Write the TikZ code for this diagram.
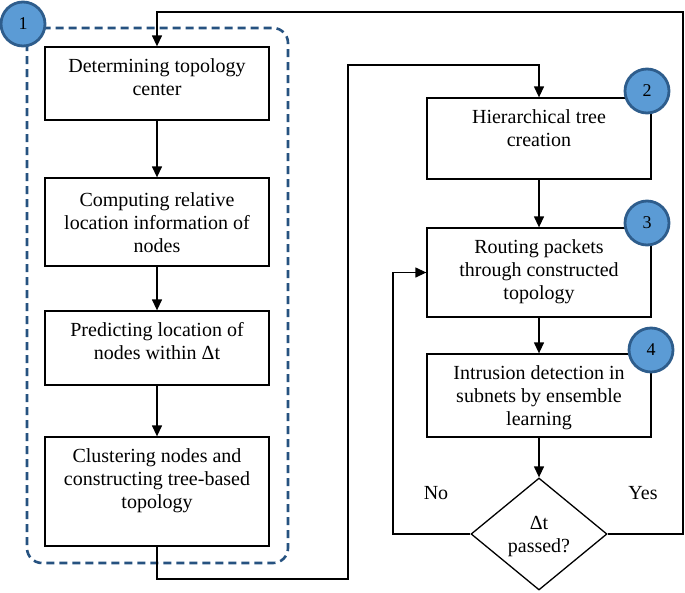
\documentclass[tikz,border=0pt]{standalone}
\usepackage{fontspec}
\setmainfont{Liberation Serif}
\usetikzlibrary{shapes.geometric,arrows.meta}
\definecolor{circfill}{RGB}{91,155,213}
\definecolor{circline}{RGB}{46,93,140}
\definecolor{dashcol}{RGB}{38,82,128}
\begin{document}
\begin{tikzpicture}[x=1pt,y=-1pt,
  box/.style={draw=black,line width=1.3pt,rectangle,inner sep=0pt,minimum width=224pt},
  txt/.style={inner sep=0pt,align=center,font=\fontsize{20}{23}\selectfont},
  num/.style={circle,draw=circline,line width=2.8pt,fill=circfill,minimum size=44pt,inner sep=0pt,font=\fontsize{18}{20}\selectfont},
  conn/.style={line width=1.3pt,draw=black},
  arr/.style={conn,-{Triangle[length=11pt,width=10pt]}},
  decision/.style={diamond,draw=black,line width=1.3pt,inner sep=0pt,minimum width=136pt,minimum height=112pt}]
\useasboundingbox (0,0) rectangle (685,592);
% dashed group
\draw[dashcol,line width=2.6pt,dash pattern=on 8pt off 5pt,rounded corners=15pt] (27,28) rectangle (288,563);
% left boxes
\node[box,minimum height=73pt] (b1) at (157,83.5) {};
\node[box,minimum height=88pt] (b2) at (157,222) {};
\node[box,minimum height=74pt] (b3) at (157,348) {};
\node[box,minimum height=109pt] (b4) at (157,491.5) {};
% right boxes
\node[box,minimum height=81pt] (bh) at (539,138.5) {};
\node[box,minimum height=89pt] (br) at (539,272.5) {};
\node[box,minimum height=83pt] (bi) at (539,395.5) {};
\node[decision] (dec) at (539,534) {};
% texts
\node[txt,anchor=north] (t1) at ([yshift=-12pt]b1.north) {Determining topology\\center};
\node[txt,anchor=north] (t2) at ([yshift=-15pt]b2.north) {Computing relative\\location information of\\nodes};
\node[txt,anchor=north] (t3) at ([yshift=-12pt]b3.north) {Predicting location of\\nodes within \char"0394 t};
\node[txt,anchor=north] (t4) at ([yshift=-12pt]b4.north) {Clustering nodes and\\constructing tree-based\\topology};
\node[txt,anchor=north] (th) at ([yshift=-12pt]bh.north) {Hierarchical tree\\creation};
\node[txt,anchor=north] (tr) at ([yshift=-12pt]br.north) {Routing packets\\through constructed\\topology};
\node[txt,anchor=north] (ti) at ([yshift=-12pt]bi.north) {Intrusion detection in\\subnets by ensemble\\learning};
\node[txt] (td) at (539,537) {\char"0394 t\\passed?};
\node[txt] (no) at (436,493) {No};
\node[txt] (yes) at (643,493) {Yes};
% connectors
\draw[arr] (b1) -- (b2);
\draw[arr] (b2) -- (b3);
\draw[arr] (b3) -- (b4);
\draw[arr] (bh) -- (br);
\draw[arr] (br) -- (bi);
\draw[arr] (bi) -- (dec);
\coordinate (p1) at (157,579);
\coordinate (p2) at (348,579);
\coordinate (p3) at (348,65);
\coordinate (p4) at (539,65);
\draw[arr] (b4.south) -- (p1) -- (p2) -- (p3) -- (p4) -- (bh.north);
\coordinate (y1) at (683,534);
\coordinate (y2) at (683,12);
\coordinate (y3) at (157,12);
\draw[arr] (dec.east) -- (y1) -- (y2) -- (y3) -- (b1.north);
\coordinate (n1) at (393,534);
\coordinate (n2) at (393,272.5);
\draw[arr] (dec.west) -- (n1) -- (n2) -- (br.west);
% number circles
\node[num] (c1) at (23,24) {1};
\node[num] (c2) at (647,91) {2};
\node[num] (c3) at (647,223) {3};
\node[num] (c4) at (651,350) {4};
\end{tikzpicture}
\end{document}
